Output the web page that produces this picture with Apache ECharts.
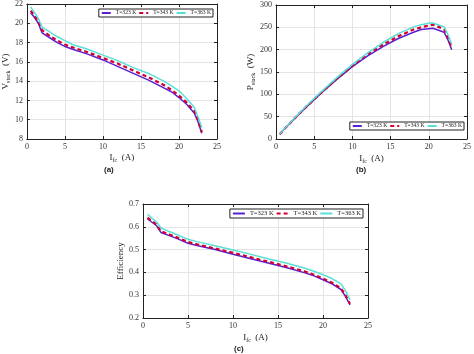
<!DOCTYPE html>
<html>
<head>
  <meta charset="utf-8">
  <title>ECharts</title>
  <script src="https://cdn.jsdelivr.net/npm/echarts@6/dist/echarts.min.js"></script>
  <style>
    html, body { margin: 0; padding: 0; background: #fff; }
  </style>
</head>
<body>
<div id="main" style="width: 474px;height:354px;"></div>
<script type="text/javascript">
  // data
  var temps = ['T=323 K', 'T=343 K', 'T=363 K'];
  var current = [0.5, 1, 1.5, 2, 3, 4, 5, 6, 8, 10, 12, 14, 16, 18, 19, 20, 21, 22, 22.5, 23];
  var vStack323 = [21.1, 20.6, 20.0, 19.0, 18.5, 18.0, 17.6, 17.3, 16.8, 16.2, 15.5, 14.8, 14.1, 13.3, 12.9, 12.3, 11.6, 10.7, 9.8, 8.6];
  var vStack343 = [21.3, 20.8, 20.2, 19.3, 18.7, 18.2, 17.8, 17.5, 17.0, 16.4, 15.8, 15.1, 14.4, 13.6, 13.1, 12.5, 11.8, 10.9, 10.0, 8.7];
  var vStack363 = [21.7, 21.1, 20.5, 19.6, 19.1, 18.6, 18.2, 17.8, 17.3, 16.7, 16.1, 15.4, 14.8, 14.0, 13.5, 13.0, 12.2, 11.3, 10.3, 9.2];

  var currentP = [0.5, 1, 2, 3, 4, 5, 6, 8, 10, 12, 14, 16, 18, 19, 20, 20.5, 21, 22, 22.5, 23];
  var pStack323 = [10.5, 20.6, 38, 55.5, 72, 88, 104, 134, 162, 186, 207, 225, 239, 245, 247, 248, 245, 239, 222, 200];
  var pStack343 = [10.6, 20.8, 38.6, 56, 73, 89, 105, 136, 164, 190, 211, 230, 245, 250, 254, 256, 253, 246, 228, 204];
  var pStack363 = [10.9, 21.1, 39.2, 57, 74.5, 91, 107, 138, 167, 193, 216, 236, 251, 256, 259, 260, 257, 251, 234, 212];

  var eff323 = [0.635, 0.62, 0.605, 0.575, 0.56, 0.545, 0.528, 0.518, 0.5, 0.48, 0.46, 0.44, 0.42, 0.398, 0.385, 0.368, 0.35, 0.325, 0.295, 0.258];
  var eff343 = [0.64, 0.625, 0.61, 0.58, 0.565, 0.55, 0.533, 0.523, 0.505, 0.486, 0.466, 0.446, 0.426, 0.404, 0.39, 0.373, 0.355, 0.33, 0.3, 0.262];
  var eff363 = [0.655, 0.638, 0.622, 0.595, 0.578, 0.562, 0.545, 0.535, 0.517, 0.498, 0.479, 0.459, 0.44, 0.418, 0.405, 0.39, 0.373, 0.35, 0.32, 0.28];

  var colors = ['#5a1fd2', '#d1002c', '#58dfd6'];
  var serif = 'Liberation Serif';

  function zip(xs, ys) {
    return xs.map(function (x, i) { return [x, ys[i]]; });
  }

  var rich = {
    n: { fontFamily: serif, fontSize: 9, color: '#222' },
    s: { fontFamily: serif, fontSize: 6, color: '#222', padding: [5, 0, 0, 0] }
  };

  function xAxes(gi, nameGap) {
    return [{
      type: 'value', gridIndex: gi, min: 0, max: 25, interval: 5,
      name: '{n|I}{s|fc}{n|  (A)}', nameLocation: 'middle', nameGap: nameGap,
      nameTextStyle: { rich: rich },
      axisLine: { lineStyle: { color: '#222', width: 1 } },
      axisTick: { inside: true, length: 3, lineStyle: { color: '#222' } },
      axisLabel: { fontFamily: serif, fontSize: 8, color: '#333', margin: 4 },
      splitLine: { lineStyle: { color: '#e4e4e4', width: 1 } }
    }, {
      type: 'value', gridIndex: gi, min: 0, max: 25, interval: 5, position: 'top',
      axisLine: { onZero: false, lineStyle: { color: '#222', width: 1 } },
      axisTick: { inside: true, length: 3, lineStyle: { color: '#222' } },
      axisLabel: { show: false }, splitLine: { show: false }
    }];
  }

  function yAxes(gi, min, max, interval, name, nameGap) {
    return [{
      type: 'value', gridIndex: gi, min: min, max: max, interval: interval,
      name: name, nameLocation: 'middle', nameGap: nameGap,
      nameTextStyle: { rich: rich, fontFamily: serif, fontSize: 9, color: '#222' },
      axisLine: { show: true, onZero: false, lineStyle: { color: '#222', width: 1 } },
      axisTick: { show: true, inside: true, length: 3, lineStyle: { color: '#222' } },
      axisLabel: { fontFamily: serif, fontSize: 8, color: '#333', margin: 4 },
      splitLine: { lineStyle: { color: '#e4e4e4', width: 1 } }
    }, {
      type: 'value', gridIndex: gi, min: min, max: max, interval: interval, position: 'right',
      axisLine: { show: true, onZero: false, lineStyle: { color: '#222', width: 1 } },
      axisTick: { show: true, inside: true, length: 3, lineStyle: { color: '#222' } },
      axisLabel: { show: false }, splitLine: { show: false }
    }];
  }

  function series(gi, xs, sets) {
    return sets.map(function (ys, k) {
      return {
        name: temps[k], type: 'line', xAxisIndex: gi * 2, yAxisIndex: gi * 2,
        data: zip(xs, ys), showSymbol: false, symbol: 'none',
        lineStyle: {
          color: colors[k],
          width: k === 1 ? 2.2 : 1.5,
          type: k === 1 ? [4, 3] : 'solid'
        },
        itemStyle: { color: colors[k] }
      };
    });
  }

  function makeLegend(right, top, fs, iw) {
    return {
      data: temps, orient: 'horizontal', right: right, top: top,
      backgroundColor: '#fff', borderColor: '#222', borderWidth: 1,
      padding: [1, 2], itemGap: 2, itemWidth: iw, itemHeight: 4,
      itemStyle: { color: 'transparent', borderColor: 'transparent', borderWidth: 0 },
      textStyle: { fontFamily: serif, fontSize: fs, color: '#222' },
      selectedMode: false
    };
  }

  var chartDom = document.getElementById('main');
  var myChart = echarts.init(chartDom);

  var option = {
    backgroundColor: '#fff',
    animation: false,
    grid: [
      { left: 21, top: 4, width: 196, height: 135 },
      { left: 276, top: 5, width: 194, height: 134 },
      { left: 143, top: 204, width: 225, height: 114 }
    ],
    xAxis: [].concat(xAxes(0, 13), xAxes(1, 14), xAxes(2, 14)),
    yAxis: [].concat(
      yAxes(0, 8, 22, 2, '{n|V}{s|stack}{n|  (V)}', 14),
      yAxes(1, 0, 300, 50, '{n|P}{s|stack}{n|  (W)}', 15),
      yAxes(2, 0.2, 0.7, 0.1, 'Efficiency', 18)
    ),
    legend: [
      makeLegend(261, 9, 5.6, 9),
      makeLegend(10, 122, 5.6, 9),
      makeLegend(111, 209, 6.5, 12)
    ],
    graphic: [
      { type: 'text', left: 104, top: 166, style: { text: '(a)', font: 'bold 8px Liberation Sans', fill: '#222' } },
      { type: 'text', left: 356, top: 166, style: { text: '(b)', font: 'bold 8px Liberation Sans', fill: '#222' } },
      { type: 'text', left: 234, top: 345, style: { text: '(c)', font: 'bold 8px Liberation Sans', fill: '#222' } }
    ],
    series: [].concat(
      series(0, current, [vStack323, vStack343, vStack363]),
      series(1, currentP, [pStack323, pStack343, pStack363]),
      series(2, current, [eff323, eff343, eff363])
    )
  };

  option && myChart.setOption(option);
</script>
</body>
</html>
